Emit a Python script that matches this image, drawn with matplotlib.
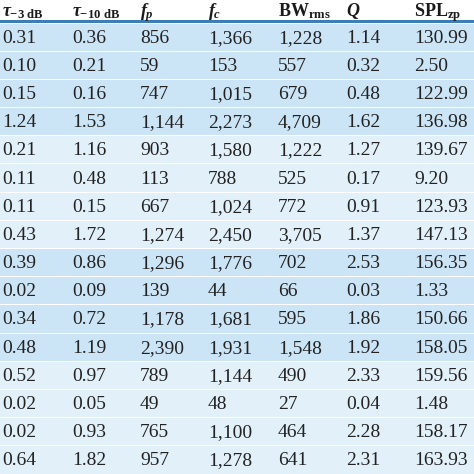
import matplotlib
matplotlib.use("Agg")
import matplotlib.pyplot as plt
from matplotlib.patches import Rectangle

headers = [r"$\tau_{-3\ \mathrm{dB}}$", r"$\tau_{-10\ \mathrm{dB}}$", r"$f_p$", r"$f_c$",
           r"$\mathrm{BW}_{\mathrm{rms}}$", r"$Q$", r"$\mathrm{SPL}_{\mathrm{zp}}$"]
tau3 = ["0.31","0.10","0.15","1.24","0.21","0.11","0.11","0.43","0.39","0.02","0.34","0.48","0.52","0.02","0.02","0.64"]
tau10 = ["0.36","0.21","0.16","1.53","1.16","0.48","0.15","1.72","0.86","0.09","0.72","1.19","0.97","0.05","0.93","1.82"]
fp = ["856","59","747","1,144","903","113","667","1,274","1,296","139","1,178","2,390","789","49","765","957"]
fc = ["1,366","153","1,015","2,273","1,580","788","1,024","2,450","1,776","44","1,681","1,931","1,144","48","1,100","1,278"]
bw = ["1,228","557","679","4,709","1,222","525","772","3,705","702","66","595","1,548","490","27","464","641"]
q = ["1.14","0.32","0.48","1.62","1.27","0.17","0.91","1.37","2.53","0.03","1.86","1.92","2.33","0.04","2.28","2.31"]
spl = ["130.99","2.50","122.99","136.98","139.67","9.20","123.93","147.13","156.35","1.33","150.66","158.05","159.56","1.48","158.17","163.93"]
cols = [tau3, tau10, fp, fc, bw, q, spl]

plt.rcParams["mathtext.fontset"] = "custom"
plt.rcParams["mathtext.rm"] = "Liberation Serif:bold"
plt.rcParams["mathtext.it"] = "Liberation Serif:italic:bold"
plt.rcParams["mathtext.bf"] = "Liberation Serif:bold"
plt.rcParams["mathtext.default"] = "it"

W = H = 474
fig = plt.figure(figsize=(W/100, H/100), dpi=100)
ax = fig.add_axes([0, 0, 1, 1])
ax.set_xlim(0, W); ax.set_ylim(H, 0); ax.axis("off")

xs = [2, 72, 140, 208, 278, 346, 414]
top = 23.0
rh = (H - top) / 16
dark, light = "#cce5f6", "#e2f0fa"
ax.add_patch(Rectangle((0, 19.5), W, 3.5, color="#3b7fb8", lw=0))
for i in range(16):
    c = dark if (i // 4) % 2 == 0 else light
    ax.add_patch(Rectangle((0, top + i*rh + 0.5), W, rh - 1, color=c, lw=0))
for j, h in enumerate(headers):
    ax.text(xs[j], 16, h, fontsize=13, va="baseline", ha="left", color="#1a1a1a")
for j, col in enumerate(cols):
    for i, v in enumerate(col):
        ax.text(xs[j], top + (i + 0.5)*rh + 1, v, fontsize=14, va="center", ha="left",
                family="Liberation Serif", color="#222222")
fig.savefig("out.png", dpi=100)
